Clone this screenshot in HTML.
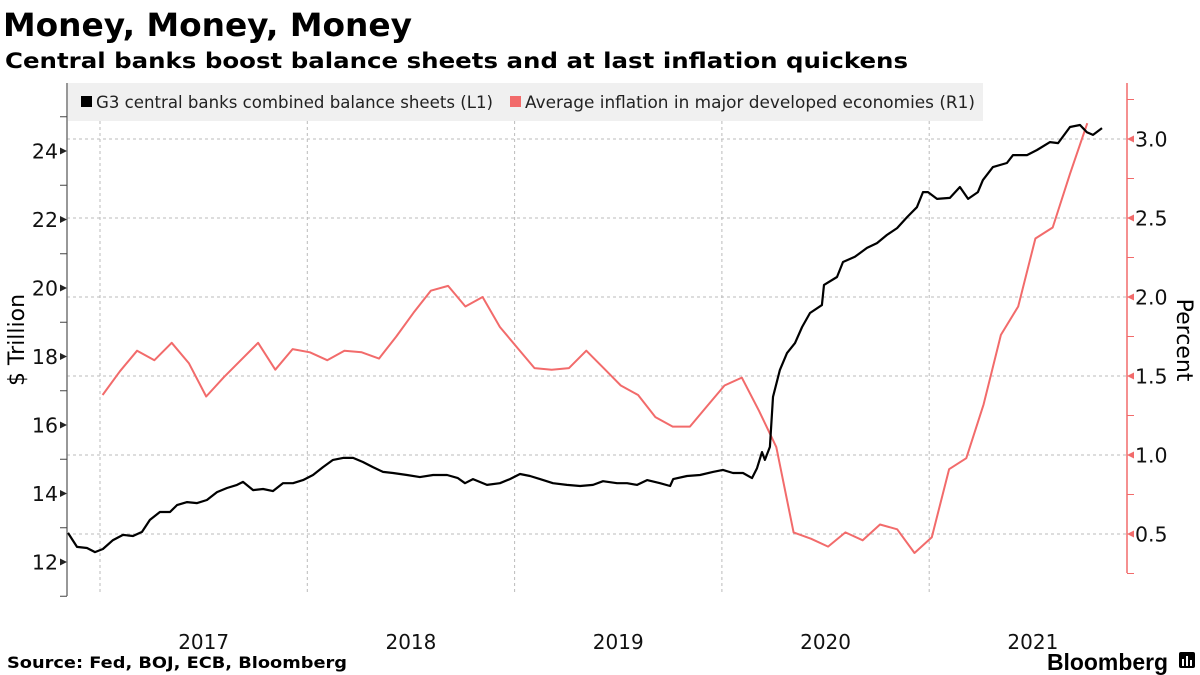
<!DOCTYPE html>
<html><head><meta charset="utf-8"><style>
html,body{margin:0;padding:0;background:#fff;}
svg{display:block;font-family:"DejaVu Sans","Liberation Sans",sans-serif;}
</style></head><body>
<svg id="chart" width="1200" height="675" viewBox="0 0 1200 675">
<text x="3" y="36" font-size="32" font-weight="bold" textLength="409" lengthAdjust="spacingAndGlyphs">Money, Money, Money</text>
<text x="5" y="68" font-size="21" font-weight="bold" textLength="903" lengthAdjust="spacingAndGlyphs">Central banks boost balance sheets and at last inflation quickens</text>
<g id="grid"></g>
<rect x="68" y="83" width="915" height="38" fill="#f0f0f0"/>
<g><rect x="81" y="96" width="11" height="11" fill="#000"/><text x="96" y="108" font-size="16.5" fill="#222" textLength="397" lengthAdjust="spacingAndGlyphs">G3 central banks combined balance sheets (L1)</text></g>
<g><rect x="510" y="96" width="11" height="11" fill="#f26b6b"/><text x="525" y="108" font-size="16.5" fill="#222" textLength="450" lengthAdjust="spacingAndGlyphs">Average inflation in major developed economies (R1)</text></g>
<g id="axes"></g>
<g id="series"></g>
<text transform="translate(24,340) rotate(-90)" text-anchor="middle" font-size="22">$ Trillion</text>
<text transform="translate(1177,340) rotate(90)" text-anchor="middle" font-size="22">Percent</text>
<text x="7" y="668" font-size="16" font-weight="bold" textLength="340" lengthAdjust="spacingAndGlyphs">Source: Fed, BOJ, ECB, Bloomberg</text>
<text x="1047" y="670" font-family="Liberation Sans, sans-serif" font-size="23" font-weight="bold" textLength="121" lengthAdjust="spacingAndGlyphs">Bloomberg</text>
<g><rect x="1179" y="652" width="16" height="16" rx="2" fill="#000"/><rect x="1182" y="659" width="2" height="7" fill="#fff"/><rect x="1186" y="656" width="2" height="10" fill="#fff"/><rect x="1190" y="660" width="2" height="6" fill="#fff"/></g>
</svg>
<script>
// months offset from Jan 2017
const bsMonths=[-1.85,-1.33,-0.75,-0.29,0.17,0.75,1.33,1.91,2.43,2.89,3.47,4.05,4.46,5.04,5.62,6.19,6.77,7.35,7.93,8.28,8.86,9.44,10.01,10.59,11.17,11.75,12.33,12.91,13.49,14.07,14.65,15.22,15.8,16.38,16.96,17.77,18.52,19.28,20.09,20.72,21.13,21.59,22.4,23.15,23.73,24.31,24.89,25.47,26.22,27.03,27.79,28.54,29.12,29.93,30.51,31.09,31.67,32.42,33.0,33.18,33.98,34.73,35.48,36.06,36.64,37.22,37.74,38.03,38.32,38.49,38.78,38.96,39.36,39.77,40.23,40.64,41.1,41.79,41.91,42.66,43.01,43.7,44.4,44.98,45.56,46.14,46.72,47.29,47.64,47.93,48.45,49.2,49.78,50.25,50.82,51.11,51.69,52.5,52.85,53.66,54.24,54.99,55.46,56.15,56.73,57.13,57.48,58.0];
const bsValues=[12.85,12.44,12.41,12.29,12.38,12.64,12.79,12.76,12.88,13.23,13.46,13.46,13.66,13.75,13.72,13.81,14.04,14.16,14.25,14.34,14.1,14.13,14.07,14.3,14.3,14.39,14.54,14.77,14.98,15.04,15.04,14.92,14.77,14.63,14.6,14.54,14.48,14.54,14.54,14.45,14.3,14.42,14.25,14.3,14.42,14.57,14.51,14.42,14.3,14.25,14.22,14.25,14.36,14.3,14.3,14.25,14.39,14.3,14.22,14.42,14.51,14.54,14.63,14.69,14.6,14.6,14.45,14.74,15.21,14.98,15.36,16.82,17.61,18.1,18.39,18.86,19.27,19.5,20.09,20.32,20.76,20.91,21.17,21.31,21.55,21.75,22.07,22.36,22.8,22.8,22.6,22.63,22.95,22.6,22.8,23.15,23.53,23.65,23.88,23.88,24.03,24.26,24.23,24.7,24.76,24.55,24.47,24.67];
const inflStartMonth=0.15;
const inflValues=[1.38,1.53,1.66,1.60,1.71,1.58,1.37,1.49,1.60,1.71,1.54,1.67,1.65,1.60,1.66,1.65,1.61,1.75,1.90,2.04,2.07,1.94,2.00,1.81,1.68,1.55,1.54,1.55,1.66,1.55,1.44,1.38,1.24,1.18,1.18,1.31,1.44,1.49,1.28,1.05,0.51,0.47,0.42,0.51,0.46,0.56,0.53,0.38,0.48,0.91,0.98,1.32,1.76,1.94,2.37,2.44,2.78,3.10];
const yearLabels=["2017","2018","2019","2020","2021"];
const leftTicks=[12,14,16,18,20,22,24];
const rightTicks=["0.5","1.0","1.5","2.0","2.5","3.0"];

const NS="http://www.w3.org/2000/svg";
const X0=100, PXM=207.3/12;
const xm=m=>X0+m*PXM;
const yL=v=>562-(v-12)*34.25;
const yR=v=>139+(3.0-v)*158;
function mk(tag,attrs,parent){const e=document.createElementNS(NS,tag);for(const k in attrs)e.setAttribute(k,attrs[k]);parent.appendChild(e);return e;}
const grid=document.getElementById('grid'),axes=document.getElementById('axes'),series=document.getElementById('series');

rightTicks.forEach(t=>{const y=yR(parseFloat(t));
  const l=mk('line',{x1:67,x2:1127,y1:y,y2:y,stroke:'#bbb','stroke-dasharray':'3,3','stroke-width':1},grid);
  
  
  const tk=mk('path',{d:`M1127 ${y} l7 -3.5 l0 7 z`,fill:'#f26b6b'},axes);
  
  
  const tx=mk('text',{x:1135,y:y+7.5,'font-size':20.5,fill:'#111'},axes);tx.textContent=t;
  
  
});
for(let v=0.25;v<=3.25;v+=0.5){const y=yR(v);mk('line',{x1:1127,x2:1134,y1:y,y2:y,stroke:'#f26b6b'},axes);}
yearLabels.forEach((t,i)=>{const x=xm(i*12);
  const l=mk('line',{x1:x,x2:x,y1:85,y2:595,stroke:'#bbb','stroke-dasharray':'3,3','stroke-width':1},grid);
  
  
  const tx=mk('text',{x:xm(i*12+6),y:649,'font-size':20,'text-anchor':'middle',fill:'#111'},axes);tx.textContent=t;
  
  
});
mk('line',{x1:67,x2:67,y1:83,y2:596,stroke:'#777','stroke-width':1.5},axes);
mk('line',{x1:1127,x2:1127,y1:83,y2:573,stroke:'#f26b6b','stroke-width':1.5},axes);
leftTicks.forEach(v=>{const y=yL(v);
  const tk=mk('path',{d:`M67 ${y} l-7 -3.5 l0 7 z`,fill:'#222'},axes);
  
  
  const tx=mk('text',{x:58,y:y+7.5,'font-size':20.5,'text-anchor':'end',fill:'#111'},axes);tx.textContent=String(v);
  
  
});
for(let v=11;v<=25;v+=2){const y=yL(v);mk('line',{x1:60,x2:67,y1:y,y2:y,stroke:'#444'},axes);}

const inflPts=inflValues.map((v,i)=>xm(inflStartMonth+i).toFixed(1)+','+yR(v).toFixed(1)).join(' ');
const p1=mk('polyline',{points:inflPts,fill:'none',stroke:'#f26b6b','stroke-width':2,'stroke-linejoin':'round'},series);


const bsPts=bsValues.map((v,i)=>xm(bsMonths[i]).toFixed(1)+','+yL(v).toFixed(1)).join(' ');
const p2=mk('polyline',{points:bsPts,fill:'none',stroke:'#000','stroke-width':2.2,'stroke-linejoin':'round'},series);


</script>
</body></html>
